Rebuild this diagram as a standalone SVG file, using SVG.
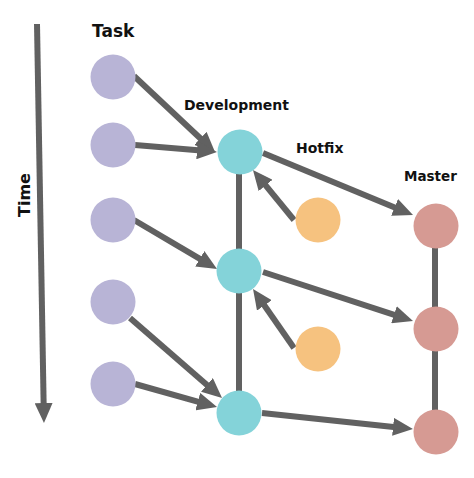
<svg xmlns="http://www.w3.org/2000/svg" width="474" height="478" viewBox="0 0 474 478">
<style>
.c{stroke:none}
.task{fill:#b8b4d6}
.dev{fill:#84d3d9}
.hot{fill:#f6c27f}
.mas{fill:#d69a93}
.ln{stroke:#616161;stroke-width:6;fill:none}
.ar{marker-end:url(#ah)}
text{font-family:"DejaVu Sans","Liberation Sans",sans-serif;font-weight:bold;fill:#111}
</style>
<defs>
<marker id="ah" viewBox="0 0 20 18" markerUnits="userSpaceOnUse" markerWidth="20" markerHeight="18" refX="10" refY="9" orient="auto">
<path d="M0,0 L20,9 L0,18 z" fill="#616161"/>
</marker>
</defs>
<rect width="474" height="478" fill="#fff"/>
<g id="connectors">
<line class="ln ar" x1="37" y1="24" x2="43.8" y2="413"/>
<line class="ln" x1="239" y1="170" x2="239" y2="395"/>
<line class="ln" x1="435" y1="245" x2="435" y2="415"/>
<line class="ln ar" x1="134" y1="76" x2="207.7" y2="145.2"/>
<line class="ln ar" x1="135" y1="145" x2="207" y2="151.1"/>
<line class="ln ar" x1="134" y1="220" x2="208.4" y2="263.9"/>
<line class="ln ar" x1="130" y1="318" x2="214.5" y2="391.4"/>
<line class="ln ar" x1="135" y1="384" x2="207.4" y2="404.3"/>
<line class="ln ar" x1="263" y1="153" x2="403.8" y2="211.2"/>
<line class="ln ar" x1="294" y1="220" x2="259.3" y2="177.7"/>
<line class="ln ar" x1="263" y1="272" x2="403.5" y2="317.9"/>
<line class="ln ar" x1="294" y1="348" x2="258.7" y2="297.2"/>
<line class="ln ar" x1="262" y1="413" x2="403" y2="427.9"/>
</g>
<g id="task1"><circle class="c task" cx="113" cy="77" r="22.5"/></g>
<g id="task2"><circle class="c task" cx="113" cy="145" r="22.5"/></g>
<g id="task3"><circle class="c task" cx="113" cy="220" r="22.5"/></g>
<g id="task4"><circle class="c task" cx="113" cy="302" r="22.5"/></g>
<g id="task5"><circle class="c task" cx="113" cy="384" r="22.5"/></g>
<g id="dev1"><circle class="c dev" cx="240" cy="152" r="22.5"/></g>
<g id="dev2"><circle class="c dev" cx="239" cy="271" r="22.5"/></g>
<g id="dev3"><circle class="c dev" cx="239" cy="413" r="22.5"/></g>
<g id="hotfix1"><circle class="c hot" cx="318" cy="220" r="22.5"/></g>
<g id="hotfix2"><circle class="c hot" cx="318" cy="349" r="22.5"/></g>
<g id="master1"><circle class="c mas" cx="436" cy="226" r="22.5"/></g>
<g id="master2"><circle class="c mas" cx="436" cy="329" r="22.5"/></g>
<g id="master3"><circle class="c mas" cx="436" cy="432" r="22.5"/></g>
<g id="labels">
<text x="92" y="37" font-size="17">Task</text>
<text x="184" y="110" font-size="14">Development</text>
<text x="296" y="153" font-size="14">Hotfix</text>
<text x="404" y="181" font-size="13.5">Master</text>
<text transform="translate(30,195) rotate(-90)" text-anchor="middle" font-size="16">Time</text>
</g>
</svg>
